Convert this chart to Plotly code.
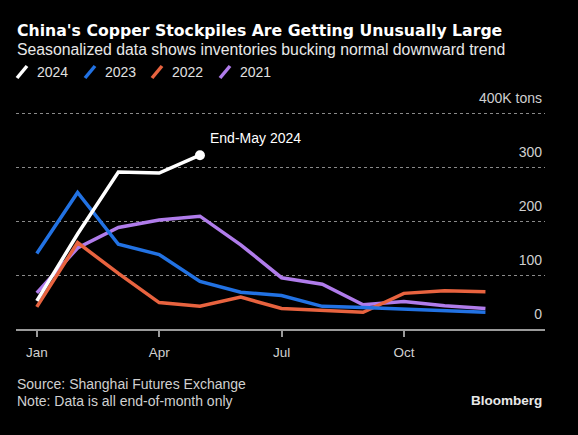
import plotly.graph_objects as go

# end-of-month stockpiles, thousand tons
months = ["Jan", "Feb", "Mar", "Apr", "May", "Jun", "Jul", "Aug", "Sep", "Oct", "Nov", "Dec"]
y2024 = [52, 176, 291, 289, 322]
y2023 = [140, 253, 157, 138, 88, 68, 62, 42, 40, 37, 35, 31]
y2022 = [41, 160, 103, 49, 42, 59, 38, 35, 31, 66, 71, 69]
y2021 = [67, 150, 188, 202, 209, 156, 95, 83, 45, 51, 43, 38]

tick_months = ["Jan", "Apr", "Jul", "Oct"]
y_ticks = [0, 100, 200, 300, 400]
y_ticktext = ["0", "100", "200", "300", "400K tons"]

series = [
    ("2024", y2024, "#ffffff"),
    ("2023", y2023, "#2272e3"),
    ("2022", y2022, "#e8633f"),
    ("2021", y2021, "#b07ceb"),
]

W, H = 578, 435
L, R, T, B = 16, 33, 112, 106
FONT = "Liberation Sans"


# pixel -> paper coords helpers for the header/footer text
def px(x):
    return (x - L) / (W - L - R)


def py(y):
    return (H - B - y) / (H - T - B)


idx = list(range(len(months)))

fig = go.Figure()
# draw older years first so 2024 is on top
for name, vals, color in reversed(series):
    fig.add_trace(go.Scatter(
        x=idx[:len(vals)], y=vals, mode="lines", name=name,
        line=dict(color=color, width=3.5), showlegend=False,
        hoverinfo="skip",
    ))

# end point of 2024
fig.add_trace(go.Scatter(
    x=[idx[len(y2024) - 1]], y=[y2024[-1]], mode="markers",
    marker=dict(color="#ffffff", size=10), showlegend=False,
))

annotations = [
    dict(x=idx[len(y2024) - 1], y=y2024[-1], xref="x", yref="y",
         text="End-May 2024", showarrow=False, xanchor="left", yanchor="middle",
         xshift=8, yshift=17, font=dict(family=FONT, size=14, color="#ffffff")),
    dict(x=px(15), y=py(30), xref="paper", yref="paper",
         text="<b>China's Copper Stockpiles Are Getting Unusually Large</b>",
         showarrow=False, xanchor="left", yanchor="middle",
         font=dict(family="DejaVu Sans", size=15.7, color="#ffffff")),
    dict(x=px(15), y=py(49), xref="paper", yref="paper",
         text="Seasonalized data shows inventories bucking normal downward trend",
         showarrow=False, xanchor="left", yanchor="middle",
         font=dict(family=FONT, size=15.8, color="#e8e8e8")),
    dict(x=px(15), y=py(384), xref="paper", yref="paper",
         text="Source: Shanghai Futures Exchange",
         showarrow=False, xanchor="left", yanchor="middle",
         font=dict(family=FONT, size=14, color="#d0d0d0")),
    dict(x=px(15), y=py(401), xref="paper", yref="paper",
         text="Note: Data is all end-of-month only",
         showarrow=False, xanchor="left", yanchor="middle",
         font=dict(family=FONT, size=14, color="#d0d0d0")),
    dict(x=px(544), y=py(400), xref="paper", yref="paper",
         text="<b>Bloomberg</b>",
         showarrow=False, xanchor="right", yanchor="middle",
         font=dict(family=FONT, size=13.5, color="#e8e8e8")),
]

# hand-made legend with slash swatches
shapes = []
legend_x = [35, 103, 170, 238]
for (name, vals, color), lx in zip(series, legend_x):
    shapes.append(dict(type="line", xref="paper", yref="paper",
                       x0=px(lx - 18), y0=py(78), x1=px(lx - 8), y1=py(66),
                       line=dict(color=color, width=3.5)))
    annotations.append(dict(x=px(lx), y=py(72), xref="paper", yref="paper",
                            text=name, showarrow=False, xanchor="left", yanchor="middle",
                            font=dict(family=FONT, size=14, color="#e0e0e0")))

fig.update_layout(
    width=W, height=H,
    margin=dict(l=L, r=R, t=T, b=B),
    paper_bgcolor="#000000",
    plot_bgcolor="#000000",
    showlegend=False,
    annotations=annotations,
    shapes=shapes,
    xaxis=dict(
        range=[-0.51, 12.46],
        tickvals=[months.index(m) for m in tick_months],
        ticktext=tick_months,
        showgrid=False, zeroline=False,
        showline=True, linecolor="#9a9a9a", linewidth=1.5,
        ticks="outside", ticklen=6, tickcolor="#9a9a9a", tickwidth=1.5,
        ticklabelstandoff=4,
        tickfont=dict(family=FONT, size=13.5, color="#d0d0d0"),
    ),
    yaxis=dict(
        range=[0, 402],
        side="right",
        tickvals=y_ticks, ticktext=y_ticktext,
        ticklabelposition="inside top",
        ticklabeloverflow="allow",
        ticklabelshift=-5,
        showgrid=True, gridcolor="#8a8a8a", griddash="dot", gridwidth=1,
        zeroline=False, showline=False, ticks="",
        tickfont=dict(family=FONT, size=14, color="#d0d0d0"),
    ),
)

# drop the page's default body margin so the figure sits at the window's corner
fig.write_html(
    "out.html",
    config={"displayModeBar": False},
    post_script="document.body.style.margin='0';document.body.style.background='#000';",
)
